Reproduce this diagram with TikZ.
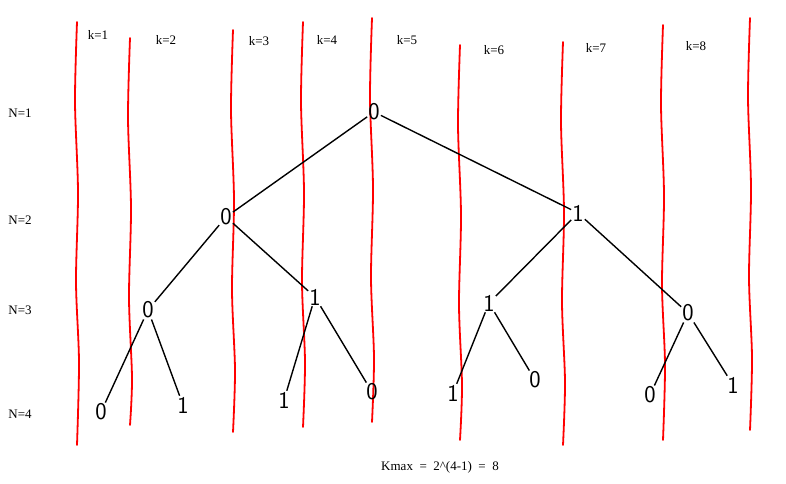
\documentclass[tikz,border=0pt]{standalone}
\usepackage{fontspec}
\setmainfont{Liberation Serif}
\begin{document}
\begin{tikzpicture}[x=1pt,y=-1pt,
  redline/.style={red,line width=1.8pt,line cap=round},
  digit/.style={font=\fontsize{24}{24}\selectfont\sffamily,inner sep=1pt},
  lbl/.style={font=\fontsize{13}{13}\selectfont},
  edge/.style={black,line width=1.4pt}]
	\useasboundingbox (0,0) rectangle (786,483);
	% red separators
	\foreach \x/\t/\b in {77/22/445,130/38/425,233/30/432,303/22/427,372/18/422,460/45/440,563/42/445,663/25/440,750/18/430}
		\draw[redline] plot[smooth] coordinates {(\x,\t) (\x-2,\t+80) (\x+1,\t+170) (\x-1,\t+260) (\x+2,\t+340) (\x,\b)};
	% k labels
	\foreach \k/\x/\y in {1/98/35,2/166/40,3/259/41,4/327/40,5/407/40,6/494/50,7/596/48,8/696/46}
		\node[lbl] (k\k) at (\x,\y) {k=\k};
	% N labels
	\foreach \n/\y in {1/113,2/220,3/310,4/414}
		\node[lbl] (n\n) at (20,\y) {N=\n};
	% tree
	\node[digit] (r) at (374,112) {0};
	\node[digit] (a) at (226,217) {0};
	\node[digit] (b) at (578,213) {1};
	\node[digit] (aa) at (148,310) {0};
	\node[digit] (ab) at (315,297) {1};
	\node[digit] (ba) at (489,303) {1};
	\node[digit] (bb) at (688,313) {0};
	\node[digit] (aaa) at (101,412) {0};
	\node[digit] (aab) at (183,405) {1};
	\node[digit] (aba) at (284,400) {1};
	\node[digit] (abb) at (372,392) {0};
	\node[digit] (baa) at (453,393) {1};
	\node[digit] (bab) at (535,380) {0};
	\node[digit] (bba) at (650,395) {0};
	\node[digit] (bbb) at (733,385) {1};
	\foreach \p/\c in {r/a,r/b,a/aa,a/ab,b/ba,b/bb,aa/aaa,aa/aab,ab/aba,ab/abb,ba/baa,ba/bab,bb/bba,bb/bbb}
		\draw[edge] (\p) -- (\c);
	% formula
	\node[lbl] (kmax) at (440,467) {Kmax~~=~~2\^{}(4-1)~~=~~8};
\end{tikzpicture}
\end{document}
